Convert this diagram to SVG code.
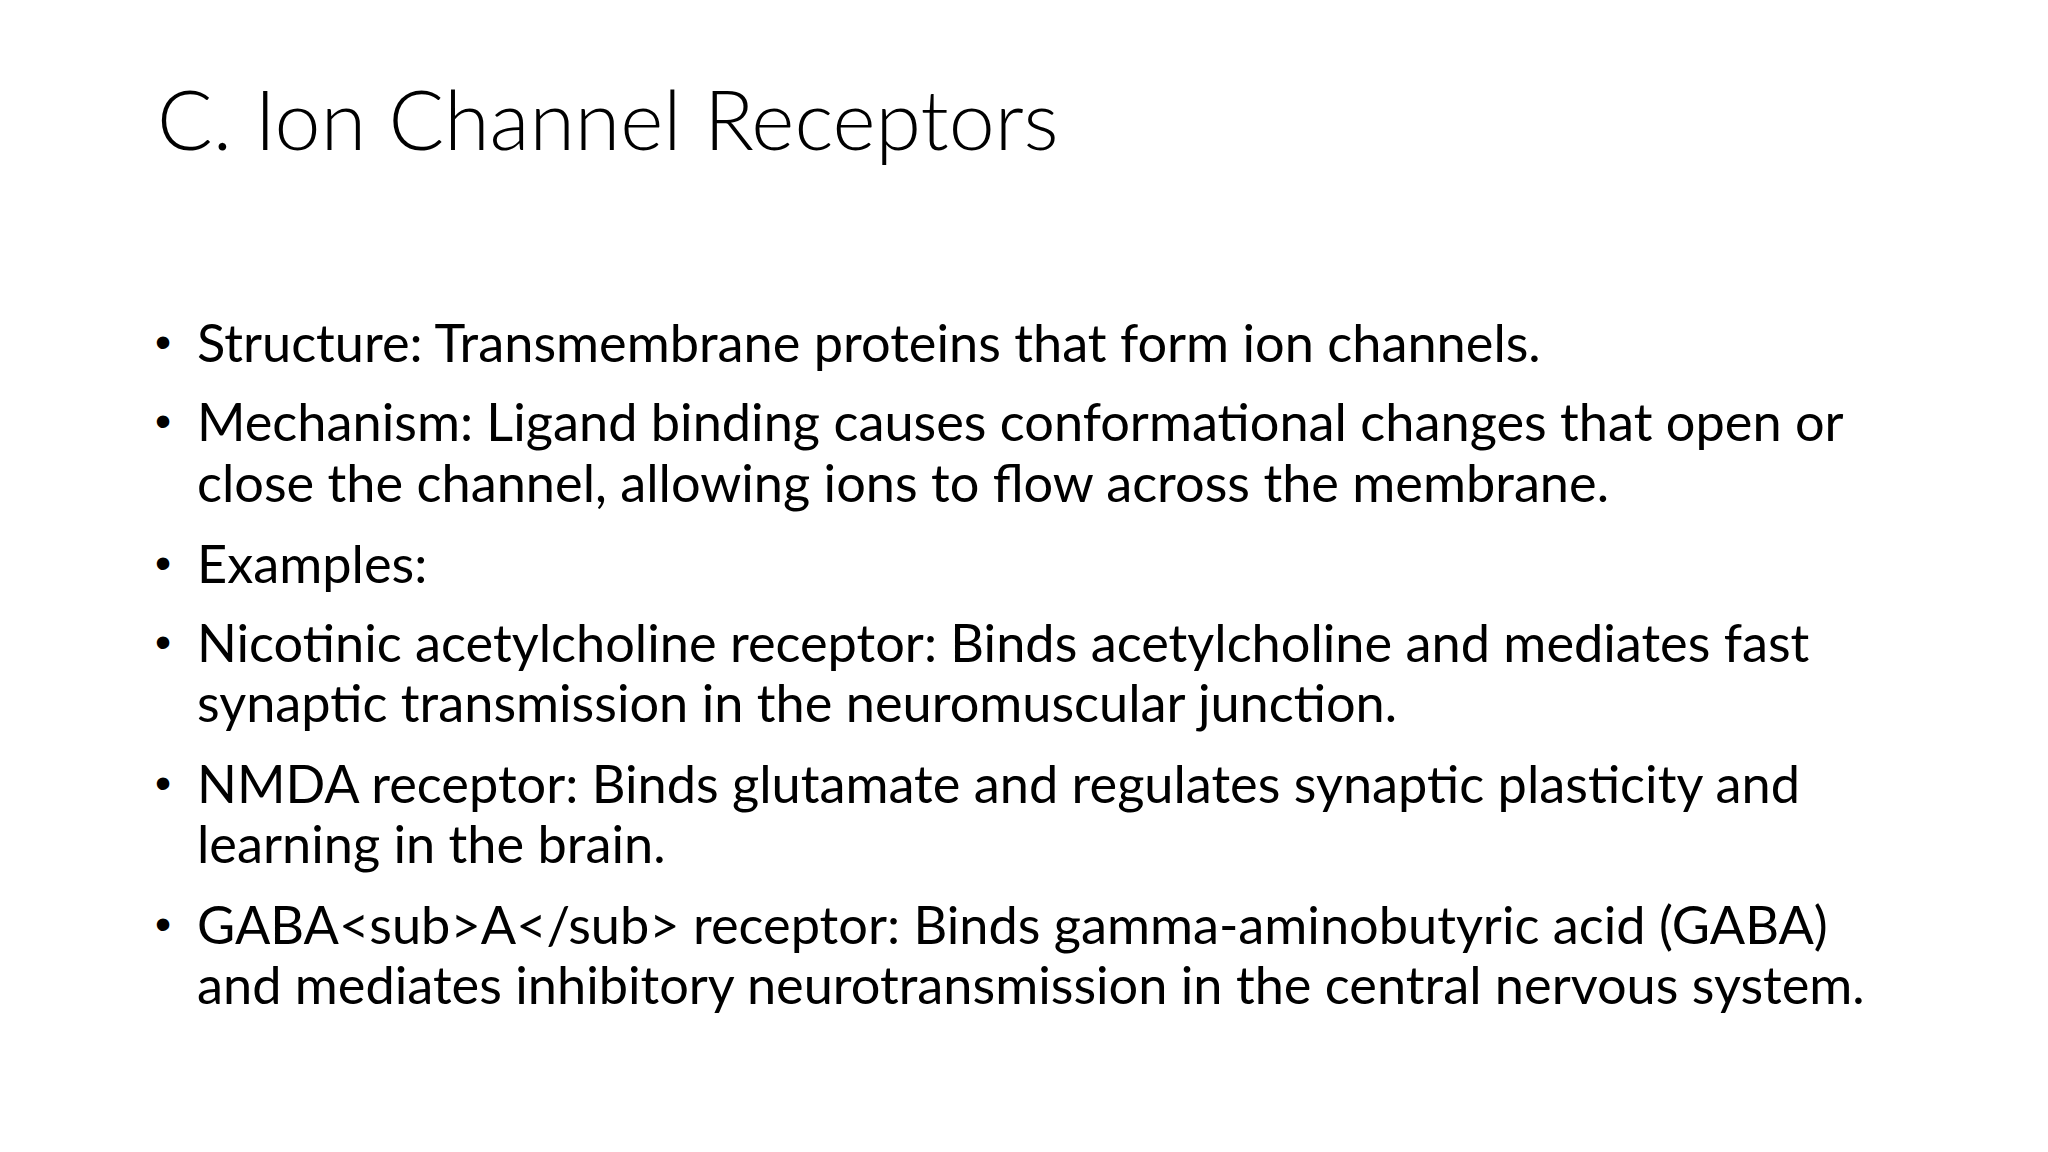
<svg xmlns="http://www.w3.org/2000/svg" width="2048" height="1152" viewBox="0 0 2048 1152">
<style>
.t{font-family:Lato,"Open Sans",sans-serif;font-weight:300;font-size:82.5px;fill:#000}
.b{font-family:Lato,"Open Sans",sans-serif;font-size:52.3px;fill:#000}
.d{font-family:"Liberation Sans",sans-serif;font-size:46px;fill:#000}
</style>
<rect width="2048" height="1152" fill="#fff"/>
<g id="title"><text class="t" x="157" y="150">C. Ion Channel Receptors</text></g>
<g id="bullets">
<text class="d" x="155" y="358">•</text><text class="b" x="197" y="362">Structure: Transmembrane proteins that form ion channels.</text>
<text class="d" x="155" y="437">•</text><text class="b" x="197" y="441">Mechanism: Ligand binding causes conformational changes that open or</text>
<text class="b" x="197" y="502">close the channel, allowing ions to flow across the membrane.</text>
<text class="d" x="155" y="579">•</text><text class="b" x="197" y="583">Examples:</text>
<text class="d" x="155" y="658">•</text><text class="b" x="197" y="662">Nicotinic acetylcholine receptor: Binds acetylcholine and mediates fast</text>
<text class="b" x="197" y="722">synaptic transmission in the neuromuscular junction.</text>
<text class="d" x="155" y="799">•</text><text class="b" x="197" y="803">NMDA receptor: Binds glutamate and regulates synaptic plasticity and</text>
<text class="b" x="197" y="863">learning in the brain.</text>
<text class="d" x="155" y="940">•</text><text class="b" x="197" y="944">GABA&lt;sub&gt;A&lt;/sub&gt; receptor: Binds gamma-aminobutyric acid (GABA)</text>
<text class="b" x="197" y="1004">and mediates inhibitory neurotransmission in the central nervous system.</text>
</g>
</svg>
